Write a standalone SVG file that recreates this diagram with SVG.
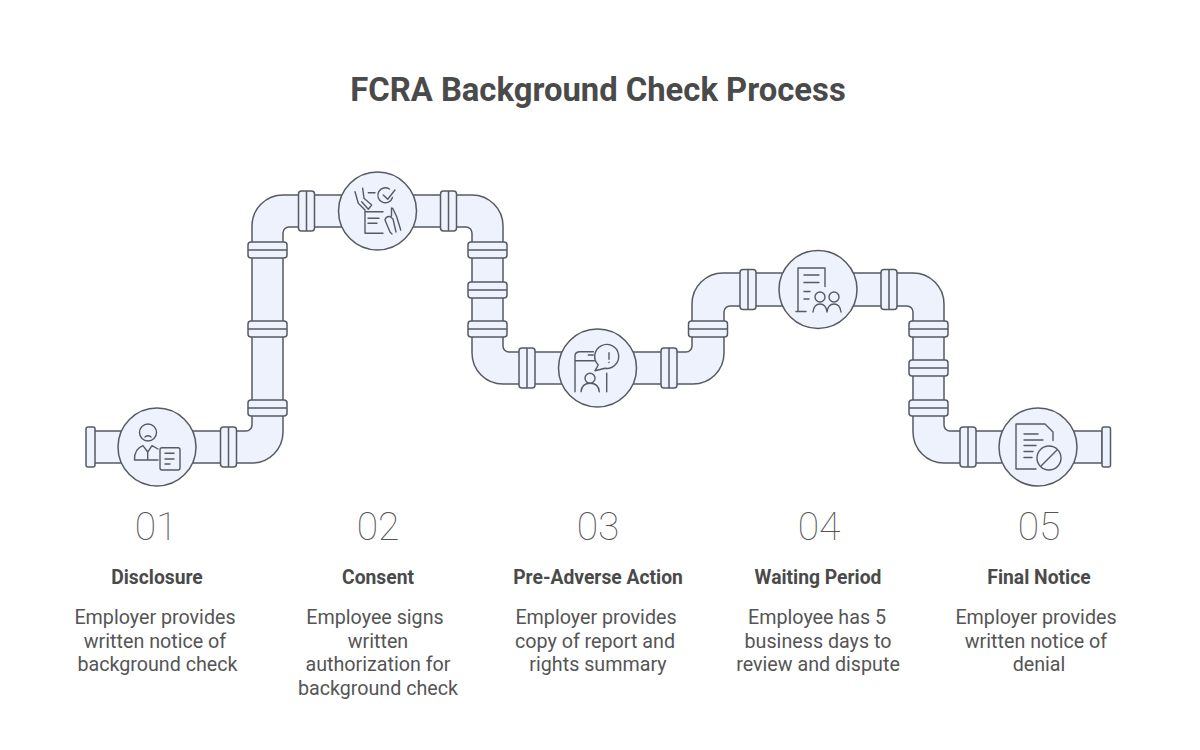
<svg xmlns="http://www.w3.org/2000/svg" width="1200" height="750" viewBox="0 0 1200 750">
<style>
text{font-family:Roboto,"Liberation Sans",sans-serif;text-anchor:middle}
.t{font-size:32.800px;font-weight:700;fill:#4a4a4a}
.n{font-size:39px;font-weight:100;fill:#555}
.h{font-size:19.300px;font-weight:700;fill:#4a4a4a}
.b{font-size:19.700px;font-weight:400;fill:#555}
.p,.f,.c{fill:#edf2fd;stroke:#565a61;stroke-width:1.5}
.i{fill:none;stroke:#565a61;stroke-width:1.4;stroke-linecap:round;stroke-linejoin:round}
.m{fill:none;stroke:#565a61;stroke-width:1.5}
</style>
<defs>
<g id="fv"><rect class="f" x="-8" y="-20" width="16" height="40" rx="3"/><path class="m" d="M0-20V20"/></g>
<g id="fh"><rect class="f" x="-19.500" y="-8" width="39" height="16" rx="3"/><path class="m" d="M-19.500 0H19.500"/></g>
</defs>
<rect width="1200" height="750" fill="#fff"/>
<text class="t" x="598" y="101">FCRA Background Check Process</text>
<g id="connectors">
<path class="p" d="M94 431H246A6 6 0 0 0 252 425V226A31 31 0 0 1 283 195H472A31 31 0 0 1 503 226V346A6 6 0 0 0 509 352H686A6 6 0 0 0 692 346V304A31 31 0 0 1 723 273H913A31 31 0 0 1 944 304V425A6 6 0 0 0 950 431H1102V463H944A31 31 0 0 1 913 432V312A6 6 0 0 0 907 306H730A6 6 0 0 0 724 312V353A31 31 0 0 1 693 384H503A31 31 0 0 1 472 353V233A6 6 0 0 0 466 227H289A6 6 0 0 0 283 233V432A31 31 0 0 1 252 463H94Z"/>
<rect class="f" x="86" y="427" width="9" height="40" rx="2"/>
<rect class="f" x="1102" y="427" width="8.500" height="40" rx="2"/>
<use href="#fv" x="228.500" y="447"/>
<use href="#fh" x="267.500" y="408"/>
<use href="#fh" x="267.500" y="329"/>
<use href="#fh" x="267.500" y="250"/>
<use href="#fv" x="306.500" y="211"/>
<use href="#fv" x="448.500" y="211"/>
<use href="#fh" x="487.500" y="250"/>
<use href="#fh" x="487.500" y="290"/>
<use href="#fh" x="487.500" y="329"/>
<use href="#fv" x="527" y="368"/>
<use href="#fv" x="669" y="368"/>
<use href="#fh" x="708" y="329"/>
<use href="#fv" x="748" y="289.500"/>
<use href="#fv" x="889" y="289.500"/>
<use href="#fh" x="928.500" y="329"/>
<use href="#fh" x="928.500" y="368"/>
<use href="#fh" x="928.500" y="408"/>
<use href="#fv" x="968" y="447"/>
</g>
<g id="node-1">
<circle class="c" cx="157" cy="447" r="39"/>
<circle class="i" cx="148" cy="432.500" r="8.500"/>
<path class="i" d="M145 437Q148 434.500 151 437M134.500 460Q134 449 143 445.700L147.700 452L152 445.700L158 449M134.500 460H158M147.700 452V460"/>
<rect class="i" x="160" y="447.700" width="20" height="22.300" rx="2"/>
<path class="i" d="M165 453.300H174M165 459H174M165 464H170"/>
<text class="n" x="156" y="540">01</text>
<text class="h" x="157" y="584">Disclosure</text>
<text class="b" x="155" y="623.500">Employer provides</text>
<text class="b" x="155" y="647.500">written notice of</text>
<text class="b" x="157.500" y="670.500">background check</text>
</g>
<g id="node-2">
<circle class="c" cx="377.500" cy="211" r="39"/>
<path class="i" d="M383.300 195L387.700 199.300L395 190M392.500 197.500A7.500 7.500 0 1 1 389.500 189M368.300 192.700H375M355 191.700L358.300 203.300L365 210M362.700 188.300L364 198.300L371.700 205L368.300 209.300L361.700 201.700M365 210V233.300H383M365 211.700H383M368 218.300H379M368 223.300H377M392.700 208.300L396.700 216.700L400.700 230M385 220Q386 216 390 216.500L393 219L396 232M385 220L390 232L392 234M391.500 208V216"/>
<text class="n" x="378" y="540">02</text>
<text class="h" x="378" y="584">Consent</text>
<text class="b" x="375" y="623.500">Employee signs</text>
<text class="b" x="378" y="647.500">written</text>
<text class="b" x="378" y="670.500">authorization for</text>
<text class="b" x="378" y="694.500">background check</text>
</g>
<g id="node-3">
<circle class="c" cx="597.500" cy="368" r="39"/>
<path class="i" d="M575 391.700V356Q575 351.700 580 351.700H593.300M575 360.700H595M588.300 355H593.300M605 368.300L595 370.700L598.300 365A12 12 0 1 1 605 368.300ZM609 352.700V359.300M609 362.300V362.600M581 391.700Q582 383.300 590 383.300Q598.500 383.300 599.300 391.700M606.700 373.300V391.700"/>
<circle class="i" cx="590" cy="378.300" r="5"/>
<text class="n" x="598" y="540">03</text>
<text class="h" x="598" y="584">Pre-Adverse Action</text>
<text class="b" x="596" y="623.500">Employer provides</text>
<text class="b" x="595" y="647.500">copy of report and</text>
<text class="b" x="598" y="670.500">rights summary</text>
</g>
<g id="node-4">
<circle class="c" cx="818" cy="289.500" r="39"/>
<path class="i" d="M798 311.500V268H825V286.500M796 311.500H806M804 275H819M804 282.500H819M804 291.500H810M804 299H809M813 312Q814 304 820 304Q826 304 827 312Q828 304 834 304Q840 304 841 312"/>
<circle class="i" cx="820" cy="297" r="5"/>
<circle class="i" cx="834" cy="297" r="5"/>
<text class="n" x="819" y="540">04</text>
<text class="h" x="818" y="584">Waiting Period</text>
<text class="b" x="817" y="623.500">Employee has 5</text>
<text class="b" x="818" y="647.500">business days to</text>
<text class="b" x="818" y="670.500">review and dispute</text>
</g>
<g id="node-5">
<circle class="c" cx="1038" cy="447" r="39"/>
<path class="i" d="M1036 469H1016V424H1045L1053 432V440.500M1024 434H1038M1024 440H1043M1024 445.500H1036M1024 451.500H1033M1024 457.500H1032M1041 466L1057 450"/>
<circle class="i" cx="1049" cy="458" r="12"/>
<text class="n" x="1039" y="540">05</text>
<text class="h" x="1039" y="584">Final Notice</text>
<text class="b" x="1036" y="623.500">Employer provides</text>
<text class="b" x="1036" y="647.500">written notice of</text>
<text class="b" x="1039" y="670.500">denial</text>
</g>
</svg>
